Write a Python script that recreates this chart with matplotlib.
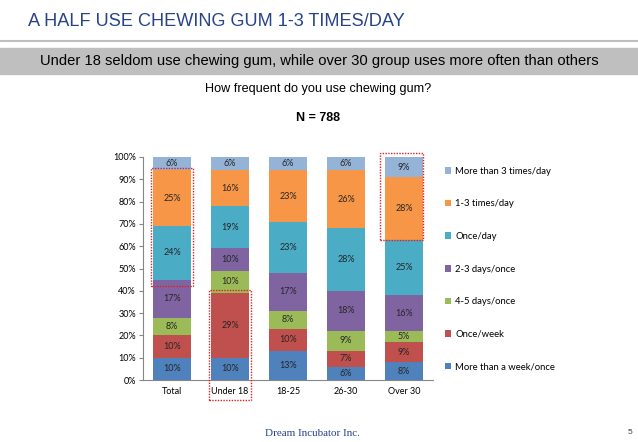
import matplotlib
matplotlib.use("Agg")
import matplotlib.pyplot as plt
from matplotlib.patches import Rectangle
import numpy as np

# Données
groupes = ["Total", "Under 18", "18-25", "26-30", "Over 30"]
frequences = ["More than a week/once", "Once/week", "4-5 days/once",
              "2-3 days/once", "Once/day", "1-3 times/day", "More than 3 times/day"]
plus_semaine = [10, 10, 13, 6, 8]
une_semaine = [10, 29, 10, 7, 9]
jours_4_5 = [8, 10, 8, 9, 5]
jours_2_3 = [17, 10, 17, 18, 16]
une_jour = [24, 19, 23, 28, 25]
fois_1_3 = [25, 16, 23, 26, 28]
plus_3_fois = [6, 6, 6, 6, 9]
series = [plus_semaine, une_semaine, jours_4_5, jours_2_3, une_jour, fois_1_3, plus_3_fois]
couleurs = ["#4F81BD", "#C0504D", "#9BBB59", "#8064A2", "#4BACC6", "#F79646", "#95B3D7"]
yticks = [0, 10, 20, 30, 40, 50, 60, 70, 80, 90, 100]

W, H = 638, 442
fig = plt.figure(figsize=(W / 100, H / 100), dpi=100)

def fx(px):
    return px / W

def fy(py):
    return 1 - py / H

# En-tête
fig.text(fx(28), fy(21), "A HALF USE CHEWING GUM 1-3 TIMES/DAY", fontsize=13.1,
         color="#27448A", family="Liberation Sans", va="center", ha="left")
fig.add_artist(plt.Line2D([0, 1], [fy(41), fy(41)], color="#BFBFBF", lw=1.5))
fig.add_artist(Rectangle((0, fy(74)), 1, fy(48) - fy(74), transform=fig.transFigure,
                         color="#BFBFBF", zorder=0))
fig.text(0.5, fy(61), "Under 18 seldom use chewing gum, while over 30 group uses more often than others",
         fontsize=10.6, color="black", family="Liberation Sans", va="center", ha="center")
fig.text(fx(318), fy(89), "How frequent do you use chewing gum?", fontsize=9.1,
         family="Liberation Sans", va="center", ha="center")
fig.text(fx(318), fy(118), "N = 788", fontsize=9, fontweight="bold",
         family="Liberation Sans", va="center", ha="center")

# Graphique empilé
ax = fig.add_axes([fx(143), fy(380), fx(433) - fx(143), fy(157) - fy(380)])
x = np.arange(len(groupes))
bas = np.zeros(len(groupes))
for nom, valeurs, c in zip(frequences, series, couleurs):
    rects = ax.bar(x, valeurs, 0.64, bottom=bas, color=c, label=nom)
    for xi, b, v in zip(x, bas, valeurs):
        ax.text(xi, b + v / 2, f"{v}%", ha="center", va="center",
                fontsize=6.5, color="#262626", family="Lato")
    bas += np.array(valeurs)

ax.set_xlim(-0.5, 4.5)
ax.set_ylim(0, 100)
ax.set_yticks(yticks)
ax.set_yticklabels([f"{t}%" for t in yticks], fontsize=6.5, family="Lato")
ax.set_xticks(x)
ax.set_xticklabels(groupes, fontsize=6.5, family="Lato")
ax.tick_params(axis="y", length=3, color="#868686", pad=2)
ax.tick_params(axis="x", length=0, pad=5)
for s in ["top", "right"]:
    ax.spines[s].set_visible(False)
for s in ["left", "bottom"]:
    ax.spines[s].set_color("#868686")
    ax.spines[s].set_linewidth(0.8)

# Cadres rouges en pointillés
cadres = [(-0.37, 42, 0.73, 53), (0.63, -9, 0.74, 49.4), (3.58, 62.8, 0.75, 39)]
for (cx, cy, cw, ch) in cadres:
    ax.add_patch(Rectangle((cx, cy), cw, ch, fill=False, edgecolor="#E0201F",
                           linestyle=(0, (1, 1)), lw=1.0, clip_on=False, zorder=5))

# Légende
h, l = ax.get_legend_handles_labels()
leg = fig.legend(h[::-1], l[::-1], loc="upper left", bbox_to_anchor=(fx(441), fy(163)),
                 frameon=False, handlelength=0.7, handleheight=0.7,
                 handletextpad=0.4, labelspacing=2.5, borderaxespad=0,
                 prop={"family": "Lato", "size": 6.8})

# Pied de page
fig.text(fx(312), fy(434), "Dream Incubator Inc.", fontsize=8, color="#27448A",
         family="Liberation Serif", va="center", ha="center")
fig.text(fx(630), fy(432), "5", fontsize=6, color="#404040",
         family="Liberation Sans", va="center", ha="center")

fig.savefig("out.png", dpi=100)
